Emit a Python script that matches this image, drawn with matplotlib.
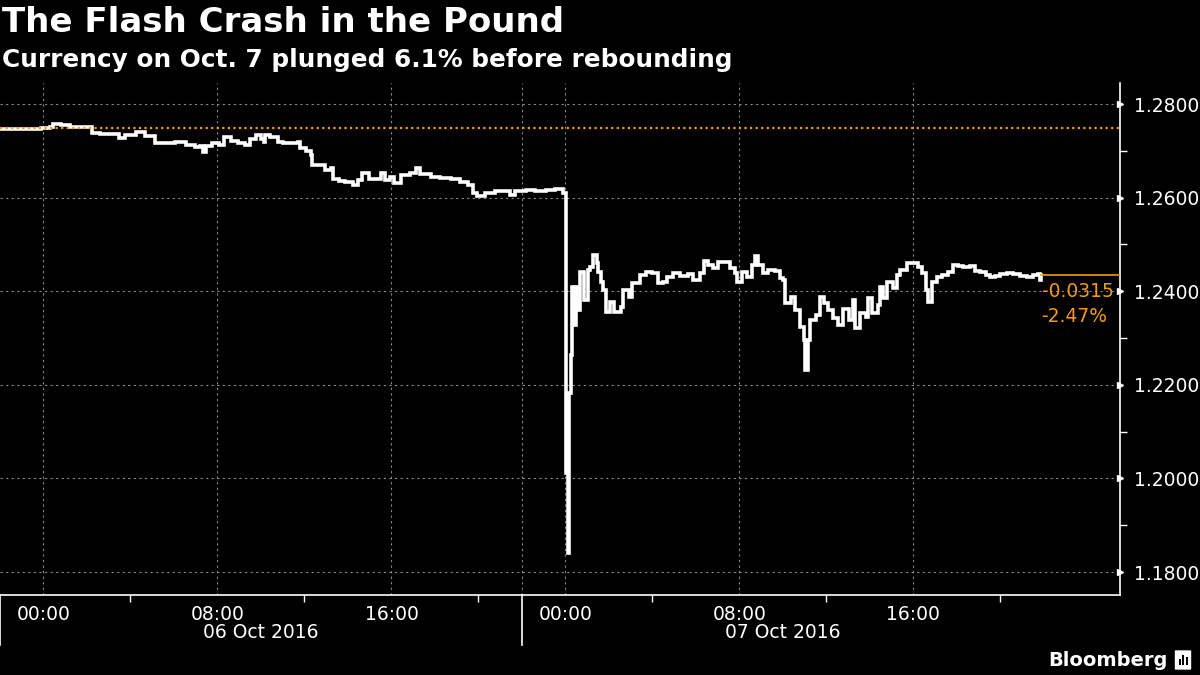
import matplotlib
matplotlib.use("Agg")
import matplotlib.pyplot as plt
import matplotlib.dates as mdates
import matplotlib.transforms as mtransforms
from matplotlib.patches import FancyBboxPatch, Rectangle
import pandas as pd

# ---------------- data (GBP/USD) ----------------
times = [
    "10-05 22:00", "10-05 22:57", "10-05 23:24", "10-05 23:52", "10-06 00:19", "10-06 00:25",
    "10-06 00:47", "10-06 01:14", "10-06 01:42", "10-06 02:15", "10-06 02:37", "10-06 03:05",
    "10-06 03:27", "10-06 03:46", "10-06 04:14", "10-06 04:41", "10-06 05:09", "10-06 05:31",
    "10-06 06:04", "10-06 06:32", "10-06 06:59", "10-06 07:13", "10-06 07:21", "10-06 07:27",
    "10-06 07:41", "10-06 07:46", "10-06 08:03", "10-06 08:17", "10-06 08:36", "10-06 08:58",
    "10-06 09:03", "10-06 09:17", "10-06 09:31", "10-06 09:45", "10-06 09:59", "10-06 10:07",
    "10-06 10:12", "10-06 10:26", "10-06 10:46", "10-06 11:02", "10-06 11:30", "10-06 11:41",
    "10-06 11:49", "10-06 12:03", "10-06 12:17", "10-06 12:22", "10-06 12:44", "10-06 12:58",
    "10-06 13:12", "10-06 13:20", "10-06 13:34", "10-06 13:53", "10-06 14:15", "10-06 14:29",
    "10-06 14:40", "10-06 14:57", "10-06 15:16", "10-06 15:32", "10-06 15:43", "10-06 15:57",
    "10-06 16:06", "10-06 16:25", "10-06 16:52", "10-06 17:09", "10-06 17:20", "10-06 17:48",
    "10-06 18:15", "10-06 18:43", "10-06 19:10", "10-06 19:32", "10-06 19:46", "10-06 19:57",
    "10-06 20:19", "10-06 20:47", "10-06 21:14", "10-06 21:28", "10-06 21:42", "10-06 22:10",
    "10-06 22:37", "10-06 23:05", "10-06 23:32", "10-06 23:54",
    "10-07 00:00", "10-07 00:01", "10-07 00:06", "10-07 00:08", "10-07 00:11", "10-07 00:14",
    "10-07 00:17", "10-07 00:22", "10-07 00:28", "10-07 00:36", "10-07 00:41", "10-07 00:50",
    "10-07 01:01", "10-07 01:09", "10-07 01:17", "10-07 01:26", "10-07 01:31", "10-07 01:37",
    "10-07 01:45", "10-07 01:53", "10-07 02:04", "10-07 02:15", "10-07 02:32", "10-07 02:40",
    "10-07 02:54", "10-07 03:05", "10-07 03:27", "10-07 03:41", "10-07 04:00", "10-07 04:14",
    "10-07 04:28", "10-07 04:41", "10-07 04:58", "10-07 05:17", "10-07 05:37", "10-07 05:53",
    "10-07 06:12", "10-07 06:21", "10-07 06:34", "10-07 06:48", "10-07 07:02", "10-07 07:21",
    "10-07 07:35", "10-07 07:49", "10-07 07:54", "10-07 08:08", "10-07 08:22", "10-07 08:36",
    "10-07 08:44", "10-07 08:52", "10-07 09:06", "10-07 09:20", "10-07 09:39", "10-07 09:53",
    "10-07 10:01", "10-07 10:07", "10-07 10:21", "10-07 10:34", "10-07 10:48", "10-07 10:57",
    "10-07 11:02", "10-07 11:08", "10-07 11:16", "10-07 11:30", "10-07 11:43", "10-07 11:52",
    "10-07 12:05", "10-07 12:19", "10-07 12:33", "10-07 12:47", "10-07 13:01", "10-07 13:14",
    "10-07 13:20", "10-07 13:34", "10-07 13:48", "10-07 13:56", "10-07 14:07", "10-07 14:21",
    "10-07 14:29", "10-07 14:37", "10-07 14:48", "10-07 15:04", "10-07 15:16", "10-07 15:24",
    "10-07 15:43", "10-07 16:00", "10-07 16:14", "10-07 16:25", "10-07 16:36", "10-07 16:41",
    "10-07 16:52", "10-07 17:06", "10-07 17:20", "10-07 17:36", "10-07 17:50", "10-07 18:04",
    "10-07 18:18", "10-07 18:37", "10-07 18:51", "10-07 19:05", "10-07 19:19", "10-07 19:32",
    "10-07 19:46", "10-07 20:00", "10-07 20:19", "10-07 20:36", "10-07 20:55", "10-07 21:14",
    "10-07 21:31", "10-07 21:45", "10-07 21:50", "10-07 21:53",
]
prices = [
    1.2747, 1.2746, 1.2747, 1.2749, 1.2751, 1.2757,
    1.2755, 1.2751, 1.2751, 1.2738, 1.2736, 1.2736,
    1.2728, 1.2734, 1.2740, 1.2732, 1.2717, 1.2717,
    1.2719, 1.2712, 1.2708, 1.2710, 1.2697, 1.2710,
    1.2710, 1.2717, 1.2712, 1.2729, 1.2722, 1.2717,
    1.2717, 1.2712, 1.2725, 1.2734, 1.2725, 1.2719,
    1.2734, 1.2730, 1.2719, 1.2716, 1.2716, 1.2719,
    1.2707, 1.2700, 1.2691, 1.2670, 1.2670, 1.2659,
    1.2663, 1.2639, 1.2635, 1.2634, 1.2627, 1.2638,
    1.2652, 1.2639, 1.2639, 1.2652, 1.2638, 1.2645,
    1.2632, 1.2648, 1.2652, 1.2663, 1.2650, 1.2645,
    1.2643, 1.2639, 1.2634, 1.2627, 1.2610, 1.2603,
    1.2610, 1.2614, 1.2614, 1.2606, 1.2614, 1.2616,
    1.2615, 1.2616, 1.2618, 1.2610,
    1.2610, 1.2012, 1.2012, 1.1841, 1.2182, 1.2264,
    1.2410, 1.2328, 1.2409, 1.2360, 1.2442, 1.2381,
    1.2445, 1.2452, 1.2477, 1.2460, 1.2442, 1.2420,
    1.2403, 1.2356, 1.2378, 1.2356, 1.2367, 1.2403,
    1.2388, 1.2417, 1.2435, 1.2442, 1.2438, 1.2417,
    1.2420, 1.2430, 1.2438, 1.2432, 1.2436, 1.2425,
    1.2440, 1.2465, 1.2456, 1.2449, 1.2463, 1.2463,
    1.2449, 1.2438, 1.2420, 1.2442, 1.2431, 1.2456,
    1.2475, 1.2456, 1.2438, 1.2445, 1.2444, 1.2428,
    1.2424, 1.2374, 1.2388, 1.2360, 1.2324, 1.2296,
    1.2232, 1.2296, 1.2338, 1.2349, 1.2388, 1.2374,
    1.2360, 1.2342, 1.2328, 1.2363, 1.2338, 1.2381,
    1.2321, 1.2353, 1.2346, 1.2385, 1.2353, 1.2370,
    1.2410, 1.2385, 1.2420, 1.2406, 1.2435, 1.2445,
    1.2460, 1.2461, 1.2452, 1.2438, 1.2403, 1.2378,
    1.2420, 1.2431, 1.2435, 1.2442, 1.2456, 1.2454,
    1.2452, 1.2454, 1.2444, 1.2442, 1.2435, 1.2430,
    1.2432, 1.2437, 1.2438, 1.2437, 1.2432, 1.2431,
    1.2435, 1.2437, 1.2424, 1.2434,
]
prev_close = 1.2749
net_change = "-0.0315"
pct_change = "-2.47%"
y_ticks = [1.18, 1.20, 1.22, 1.24, 1.26, 1.28]
x_major = ["2016-10-06 00:00", "2016-10-06 08:00", "2016-10-06 16:00",
           "2016-10-07 00:00", "2016-10-07 08:00", "2016-10-07 16:00"]
x_minor = ["2016-10-06 04:00", "2016-10-06 12:00", "2016-10-06 20:00",
           "2016-10-07 04:00", "2016-10-07 12:00", "2016-10-07 20:00"]
day_labels = ["06 Oct 2016", "07 Oct 2016"]
day_label_centers = ["2016-10-06 10:00", "2016-10-07 10:00"]
day_separators = ["2016-10-05 22:00", "2016-10-06 22:00"]
x_start, x_end = "2016-10-05 22:00", "2016-10-08 01:30"
title = "The Flash Crash in the Pound"
subtitle = "Currency on Oct. 7 plunged 6.1% before rebounding"

# ---------------- figure ----------------
plt.rcParams['font.family'] = ['DejaVu Sans']
t = pd.to_datetime(["2016-" + s for s in times])
ORANGE = "#f39a12"
GRID = "#8a8a8a"

fig = plt.figure(figsize=(12, 6.75), dpi=100, facecolor="black")
ax = fig.add_axes([0.0, 1 - 595 / 675, 1120 / 1200, (595 - 83) / 675], facecolor="black")

ax.plot(t, prices, color="white", lw=2.6, zorder=3, drawstyle="steps-post",
        solid_joinstyle="miter")
ax.axhline(prev_close, color=ORANGE, lw=1.6, ls=(0, (1, 1.5)), zorder=4)
ax.plot([t[-1], pd.Timestamp(x_end)], [prices[-1], prices[-1]], color=ORANGE, lw=1.2, zorder=4)

ax.set_xlim(pd.Timestamp(x_start), pd.Timestamp(x_end))
ax.set_ylim(1.1751, 1.2845)

# y axis on the right
ax.yaxis.tick_right()
ax.set_yticks(y_ticks)
ax.set_yticklabels([f"{v:.4f}" for v in y_ticks])
ax.set_yticks([v + 0.01 for v in y_ticks[:-1]], minor=True)
ax.tick_params(axis="y", which="major", colors="white", labelsize=13.5, length=5, width=1, pad=5,
               direction="out")
ax.tick_params(axis="y", which="minor", colors="white", length=5, width=1, direction="out")
for tk in ax.yaxis.get_major_ticks():
    tk.tick2line.set_marker(">")
    tk.tick2line.set_markersize(5)

# x axis
ax.set_xticks(pd.to_datetime(x_major))
ax.xaxis.set_major_formatter(mdates.DateFormatter("%H:%M"))
ax.set_xticks(pd.to_datetime(x_minor), minor=True)
ax.tick_params(axis="x", which="major", colors="white", labelsize=13.5, length=0, pad=7)
ax.tick_params(axis="x", which="minor", colors="white", length=5, width=1, direction="out")

# grid
ax.grid(True, which="major", axis="both", color=GRID, lw=0.8, ls=(0, (2, 3)), zorder=1)
for d in day_separators[1:]:
    ax.axvline(pd.Timestamp(d), color=GRID, lw=0.8, ls=(0, (2, 3)), zorder=1)

for side in ["top", "left"]:
    ax.spines[side].set_visible(False)
ax.spines["right"].set_color("white")
ax.spines["bottom"].set_color("white")
ax.spines["right"].set_linewidth(1.2)
ax.spines["bottom"].set_linewidth(1.2)

trans = mtransforms.blended_transform_factory(ax.transData, ax.transAxes)
for d in day_separators:
    ax.plot([pd.Timestamp(d)] * 2, [0, -50 / 512], color="white", lw=1.2, transform=trans,
            clip_on=False)
for lab, c in zip(day_labels, day_label_centers):
    ax.text(pd.Timestamp(c), -38 / 512, lab, color="white", fontsize=13.5, ha="center",
            va="center", transform=trans)

# change annotations
ax.text(pd.Timestamp(x_end), 1.2400, net_change + " ", color=ORANGE, fontsize=13.5,
        ha="right", va="center")
ax.text(t[-1], 1.2347, pct_change, color=ORANGE, fontsize=13.5, ha="left", va="center")

# titles
fig.text(0.002, 1 - 22 / 675, title, color="white", fontsize=24.5, fontweight="bold",
         ha="left", va="center")
fig.text(0.002, 1 - 60 / 675, subtitle, color="white", fontsize=17.8, fontweight="bold",
         ha="left", va="center")
fig.text(1168 / 1200, 1 - 660 / 675, "Bloomberg", color="white", fontsize=14,
         fontweight="bold", ha="right", va="center")
# small logo box
fig.patches.append(FancyBboxPatch((1176 / 1200, 1 - 669 / 675), 14 / 1200, 18 / 675,
                                  boxstyle="round,pad=0.001", transform=fig.transFigure,
                                  facecolor="white", edgecolor="none"))
for i, h in enumerate([6, 10, 8]):
    fig.patches.append(Rectangle(((1179 + i * 3.3) / 1200, 1 - 665 / 675), 2 / 1200, h / 675,
                                 transform=fig.transFigure, facecolor="black", edgecolor="none"))

fig.savefig("out.png", dpi=100, facecolor="black")
